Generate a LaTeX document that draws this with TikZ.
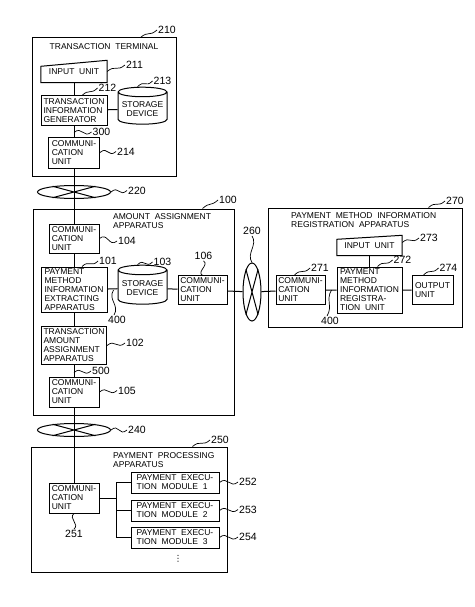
\documentclass[tikz,border=0pt]{standalone}
\usepackage{fontspec}
\setmainfont{Liberation Sans}
\newfontfamily\symfont{DejaVu Sans}
\usepackage{tikz}
\usetikzlibrary{shapes.geometric}
\tikzset{
    every node/.style={font=\fontsize{8.5}{9}\selectfont},
    frame/.style={draw, line width=1pt, inner sep=0pt},
    title/.style={anchor=west, align=left, inner sep=0pt},
    unit/.style={draw, line width=1pt, align=left, inner sep=2pt},
    store/.style={draw, line width=1pt, cylinder, shape border rotate=90, aspect=0.22, align=center, inner sep=1pt},
    net/.style={draw, line width=1pt, ellipse, inner sep=0pt},
    num/.style={font=\fontsize{10.5}{12}\selectfont, inner sep=1pt},
    link/.style={line width=1pt},
    lead/.style={line width=0.7pt}
}

\begin{document}
\begin{tikzpicture}[x=1pt, y=-1pt]
    \useasboundingbox (0,0) rectangle (474,607);
    % Transaction terminal
    \node[frame, minimum width=144pt, minimum height=138pt] (t210) at (104,107) {};
    \node (tt210) at (104,47) {TRANSACTION\ \ TERMINAL};
    \node[minimum width=66pt, minimum height=22pt, inner sep=0pt] (in211) at (74,71.5) {INPUT\ \ UNIT};
    \draw[link] ([yshift=-6pt]in211.north west) -- (in211.north east) -- (in211.south east) -- (in211.south west) -- cycle;
    \node[unit, minimum width=66pt, minimum height=29pt] (gen212) at (74,110.5) {TRANSACTION\\INFORMATION\\GENERATOR};
    \node[store, minimum width=49pt, minimum height=37pt] (st213) at (142.5,109) {STORAGE\\DEVICE};
    \node[unit, minimum width=51pt, minimum height=31pt] (c214) at (74,152.5) {COMMUNI-\\CATION\\UNIT};
    % Network 220
    \node[net, minimum width=73pt, minimum height=13pt] (e220) at (74,192) {};
    \draw[link] (e220.165) -- (e220.-15) (e220.195) -- (e220.15);
    % Amount assignment apparatus
    \node[frame, minimum width=201pt, minimum height=206pt] (a100) at (133.5,312) {};
    \node[title] (tt100) at (113,221) {AMOUNT\ \ ASSIGNMENT\\APPARATUS};
    \node[unit, minimum width=50pt, minimum height=29pt] (c104) at (74,238.5) {COMMUNI-\\CATION\\UNIT};
    \node[unit, minimum width=66pt, minimum height=45pt] (x101) at (74,290) {PAYMENT\\METHOD\\INFORMATION\\EXTRACTING\\APPARATUS};
    \node[store, minimum width=49pt, minimum height=39pt] (st103) at (142.5,288) {STORAGE\\DEVICE};
    \node[unit, minimum width=49pt, minimum height=27pt] (c106) at (202.5,290) {COMMUNI-\\CATION\\UNIT};
    \node[unit, minimum width=65pt, minimum height=35pt] (a102) at (74,345.5) {TRANSACTION\\AMOUNT\\ASSIGNMENT\\APPARATUS};
    \node[unit, minimum width=50pt, minimum height=30pt] (c105) at (74,392) {COMMUNI-\\CATION\\UNIT};
    % Network 240
    \node[net, minimum width=73pt, minimum height=13pt] (e240) at (74,430) {};
    \draw[link] (e240.165) -- (e240.-15) (e240.195) -- (e240.15);
    % Payment processing apparatus
    \node[frame, minimum width=196pt, minimum height=125pt] (p250) at (129,509.5) {};
    \node[title] (tt250) at (113,460) {PAYMENT\ \ PROCESSING\\APPARATUS};
    \node[unit, minimum width=50pt, minimum height=30pt] (c251) at (74,498) {COMMUNI-\\CATION\\UNIT};
    \node[unit, minimum width=88pt, minimum height=21pt] (m252) at (175,482.5) {PAYMENT\ \ EXECU-\\TION\ \ MODULE\ \ 1};
    \node[unit, minimum width=88pt, minimum height=21pt] (m253) at (175,510.5) {PAYMENT\ \ EXECU-\\TION\ \ MODULE\ \ 2};
    \node[unit, minimum width=88pt, minimum height=21pt] (m254) at (175,537.5) {PAYMENT\ \ EXECU-\\TION\ \ MODULE\ \ 3};
    \node[inner sep=0pt] (more) at (178,559) {\symfont ⋮};
    % Network 260
    \node[net, minimum width=18pt, minimum height=58pt] (e260) at (252,292) {};
    \draw[link] (e260.105) -- (e260.-75) (e260.75) -- (e260.-105);
    % Payment method information registration apparatus
    \node[frame, minimum width=194pt, minimum height=119pt] (r270) at (365,267.5) {};
    \node[title] (tt270) at (291,220) {PAYMENT\ \ METHOD\ \ INFORMATION\\REGISTRATION\ \ APPARATUS};
    \node[minimum width=65pt, minimum height=20pt, inner sep=0pt] (in273) at (369.5,245.5) {INPUT\ \ UNIT};
    \draw[link] ([yshift=-4pt]in273.north west) -- (in273.north east) -- (in273.south east) -- (in273.south west) -- cycle;
    \node[unit, minimum width=49pt, minimum height=29pt] (c271) at (300.5,290) {COMMUNI-\\CATION\\UNIT};
    \node[unit, minimum width=65pt, minimum height=46pt] (r272) at (369.5,290) {PAYMENT\\METHOD\\INFORMATION\\REGISTRA-\\TION\ \ UNIT};
    \node[unit, minimum width=41pt, minimum height=29pt] (o274) at (432.5,290) {OUTPUT\\UNIT};
    % Connections
    \draw[link] (in211) -- (gen212) -- (c214) -- (c104) -- (x101) -- (a102) -- (c105) -- (c251);
    \draw[link] (gen212) -- (st213);
    \draw[link] (x101) -- (st103) -- (c106) -- (e260) -- (c271) -- (r272) -- (o274);
    \draw[link] (in273) -- (r272);
    \coordinate (br) at (116,498);
    \draw[link] (c251) -- (br);
    \draw[link] (br |- m252) -- (br |- m254);
    \draw[link] (br |- m252) -- (m252);
    \draw[link] (br |- m253) -- (m253);
    \draw[link] (br |- m254) -- (m254);
    % Reference numerals
    \node[num] (l210) at (167,30) {210};
    \node[num] (l211) at (134.5,65) {211};
    \node[num] (l212) at (107.5,88) {212};
    \node[num] (l213) at (162.5,81) {213};
    \node[num] (l300) at (101.5,132) {300};
    \node[num] (l214) at (126,151.5) {214};
    \node[num] (l220) at (137,190.5) {220};
    \node[num] (l100) at (228,200) {100};
    \node[num] (l104) at (127,241) {104};
    \node[num] (l101) at (108,261) {101};
    \node[num] (l103) at (162.5,262) {103};
    \node[num] (l106) at (203.5,256) {106};
    \node[num] (l400a) at (117,320) {400};
    \node[num] (l102) at (135,343) {102};
    \node[num] (l500) at (101,371) {500};
    \node[num] (l105) at (127,390.5) {105};
    \node[num] (l240) at (137,430) {240};
    \node[num] (l250) at (220,440) {250};
    \node[num] (l251) at (74,534) {251};
    \node[num] (l252) at (248,482) {252};
    \node[num] (l253) at (248,509.5) {253};
    \node[num] (l254) at (248,537) {254};
    \node[num] (l260) at (252,231) {260};
    \node[num] (l270) at (455,201) {270};
    \node[num] (l273) at (429,238) {273};
    \node[num] (l272) at (402.5,260) {272};
    \node[num] (l271) at (320,268) {271};
    \node[num] (l274) at (448.5,268) {274};
    \node[num] (l400b) at (330,321) {400};
    % Leaders
    \draw[lead] ([xshift=-36pt]t210.north east) .. controls +(8,-7) and +(-8,7) .. (l210.west);
    \draw[lead] (in211.east) .. controls +(8,-7) and +(-8,7) .. (l211.west);
    \draw[lead] ([xshift=8pt]gen212.north) .. controls +(7,-7) and +(-7,7) .. (l212.west);
    \draw[lead] ([xshift=-5pt]st213.north) .. controls +(7,-7) and +(-7,7) .. (l213.west);
    \draw[lead] ([yshift=4pt]c214.north) .. controls +(8,-7) and +(-8,7) .. (l300.west);
    \draw[lead] (c214.east) .. controls +(8,-7) and +(-8,7) .. (l214.west);
    \draw[lead] (e220.east) .. controls +(8,-7) and +(-8,7) .. (l220.west);
    \draw[lead] ([xshift=-32pt]a100.north east) .. controls +(8,-7) and +(-8,7) .. (l100.west);
    \draw[lead] (c104.east) .. controls +(8,-7) and +(-8,7) .. (l104.west);
    \draw[lead] ([xshift=8pt]x101.north) .. controls +(7,-7) and +(-7,7) .. (l101.west);
    \draw[lead] ([xshift=-5pt]st103.north) .. controls +(7,-7) and +(-7,7) .. (l103.west);
    \draw[lead] (c106.north) .. controls +(-6,-4) and +(6,4) .. (l106.south);
    \draw[lead] ([xshift=6pt]x101.east) .. controls +(-6,10) and +(6,-10) .. ([xshift=-3pt]l400a.north);
    \draw[lead] (a102.east) .. controls +(8,-7) and +(-8,7) .. (l102.west);
    \draw[lead] ([yshift=4pt]c105.north) .. controls +(8,-7) and +(-8,7) .. (l500.west);
    \draw[lead] (c105.east) .. controls +(8,-7) and +(-8,7) .. (l105.west);
    \draw[lead] (e240.east) .. controls +(8,-7) and +(-8,7) .. (l240.west);
    \draw[lead] ([xshift=-35pt]p250.north east) .. controls +(8,-7) and +(-8,7) .. (l250.west);
    \draw[lead] (c251.south) .. controls +(-6,5) and +(6,-5) .. (l251.north);
    \draw[lead] (m252.east) .. controls +(8,-7) and +(-8,7) .. (l252.west);
    \draw[lead] (m253.east) .. controls +(8,-7) and +(-8,7) .. (l253.west);
    \draw[lead] (m254.east) .. controls +(8,-7) and +(-8,7) .. (l254.west);
    \draw[lead] (e260.north) .. controls +(-6,-9) and +(6,9) .. (l260.south);
    \draw[lead] ([xshift=-34pt]r270.north east) .. controls +(8,-7) and +(-8,7) .. (l270.west);
    \draw[lead] ([yshift=3pt]in273.east) .. controls +(8,-7) and +(-8,7) .. (l273.west);
    \draw[lead] ([xshift=8pt]r272.north) .. controls +(7,-7) and +(-7,7) .. (l272.west);
    \draw[lead] ([xshift=-6pt]c271.north) .. controls +(7,-7) and +(-7,7) .. (l271.west);
    \draw[lead] ([xshift=-9pt]o274.north) .. controls +(7,-7) and +(-7,7) .. (l274.west);
    \draw[lead] ([xshift=6pt]c271.east) .. controls +(-6,10) and +(6,-10) .. ([xshift=-3pt]l400b.north);
\end{tikzpicture}
\end{document}
